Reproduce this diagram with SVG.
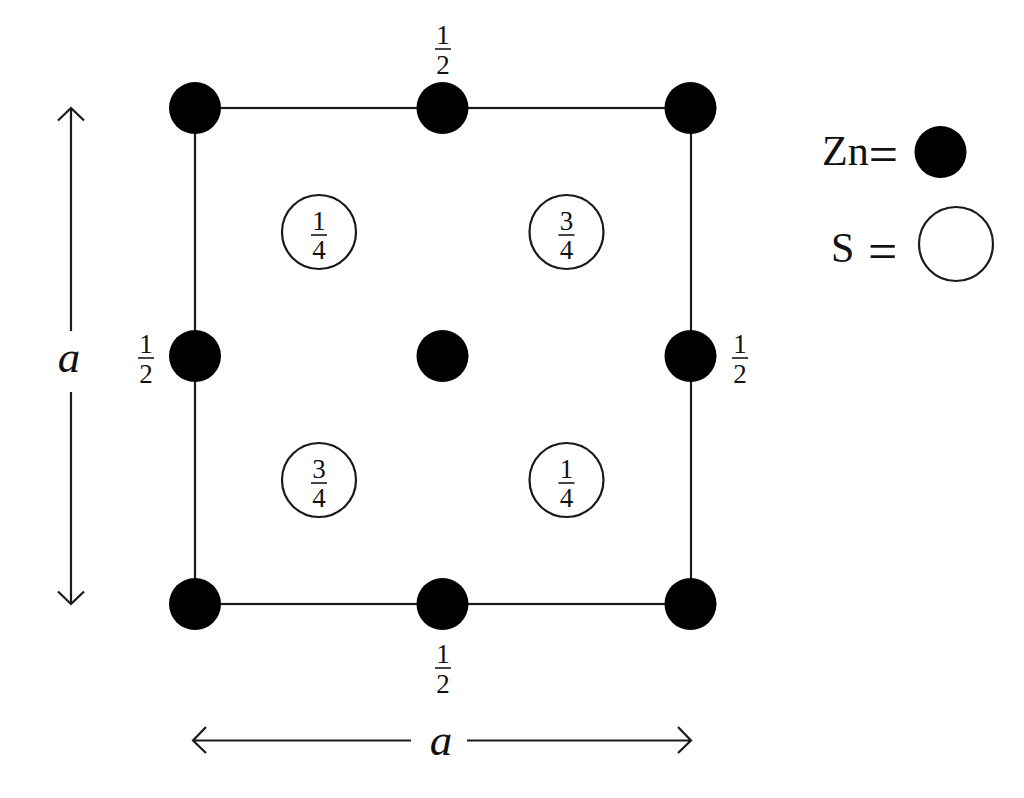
<svg xmlns="http://www.w3.org/2000/svg" width="1024" height="798" viewBox="0 0 1024 798">
<style>
.zn{fill:#000}
.s{fill:#fff;stroke:#1a1a1a;stroke-width:2.200}
.ln{fill:none;stroke:#1a1a1a;stroke-width:2.200}
.ar{fill:none;stroke:#1a1a1a;stroke-width:2.200}
.bar{stroke:#1a1a1a;stroke-width:1.600}
text{font-family:"Liberation Serif","DejaVu Serif",serif;fill:#111;text-anchor:middle}
.f{font-size:27px}
.a{font-size:45px;font-style:italic}
.l{font-size:42px;text-anchor:start}
.eq{font-size:52px}
</style>
<defs>
<g id="half"><text class="f" x="0" y="-5">1</text><line class="bar" x1="-8" x2="8" y1="0" y2="0"/><text class="f" x="0" y="24.500">2</text></g>
<g id="quarter"><text class="f" x="0" y="-5">1</text><line class="bar" x1="-8" x2="8" y1="0" y2="0"/><text class="f" x="0" y="24">4</text></g>
<g id="threeq"><text class="f" x="0" y="-5">3</text><line class="bar" x1="-8" x2="8" y1="0" y2="0"/><text class="f" x="0" y="24">4</text></g>
</defs>
<g id="connectors">
<rect class="ln" x="195" y="108" width="496" height="496"/>
<path class="ar" d="M71 108V331M71 392V604M58 120.500L71 108L84 120.500M58 591.500L71 604L84 591.500"/>
<path class="ar" d="M193 740.500H411M467 740.500H691M206 727L193 740.500L206 753M678 727L691 740.500L678 753"/>
</g>
<g id="zn-tl"><circle class="zn" cx="195" cy="108" r="26"/></g>
<g id="zn-tm"><circle class="zn" cx="442.500" cy="108" r="26"/></g>
<g id="zn-tr"><circle class="zn" cx="690.500" cy="108" r="26"/></g>
<g id="zn-ml"><circle class="zn" cx="195" cy="356" r="26"/></g>
<g id="zn-c"><circle class="zn" cx="442.500" cy="356" r="26"/></g>
<g id="zn-mr"><circle class="zn" cx="690.500" cy="356" r="26"/></g>
<g id="zn-bl"><circle class="zn" cx="195" cy="604" r="26"/></g>
<g id="zn-bm"><circle class="zn" cx="442.500" cy="604" r="26"/></g>
<g id="zn-br"><circle class="zn" cx="690.500" cy="604" r="26"/></g>
<g id="s-tl"><circle class="s" cx="319" cy="232" r="37"/><use href="#quarter" x="319" y="235"/></g>
<g id="s-tr"><circle class="s" cx="566.500" cy="232" r="37"/><use href="#threeq" x="566.500" y="235"/></g>
<g id="s-bl"><circle class="s" cx="319" cy="480" r="37"/><use href="#threeq" x="319" y="483"/></g>
<g id="s-br"><circle class="s" cx="566.500" cy="480" r="37"/><use href="#quarter" x="566.500" y="483"/></g>
<g id="labels">
<use href="#half" x="443" y="49"/>
<use href="#half" x="146" y="358"/>
<use href="#half" x="740" y="358"/>
<use href="#half" x="443" y="668"/>
<text class="a" x="69" y="372">a</text>
<text class="a" x="441" y="755">a</text>
</g>
<g id="legend">
<text class="l" x="822" y="165">Zn<tspan class="eq" dy="7">=</tspan></text>
<circle class="zn" cx="940.500" cy="152" r="26"/>
<text class="l" x="831" y="262">S<tspan class="eq" x="868" dy="7">=</tspan></text>
<circle class="s" cx="956" cy="244" r="37"/>
</g>
</svg>
